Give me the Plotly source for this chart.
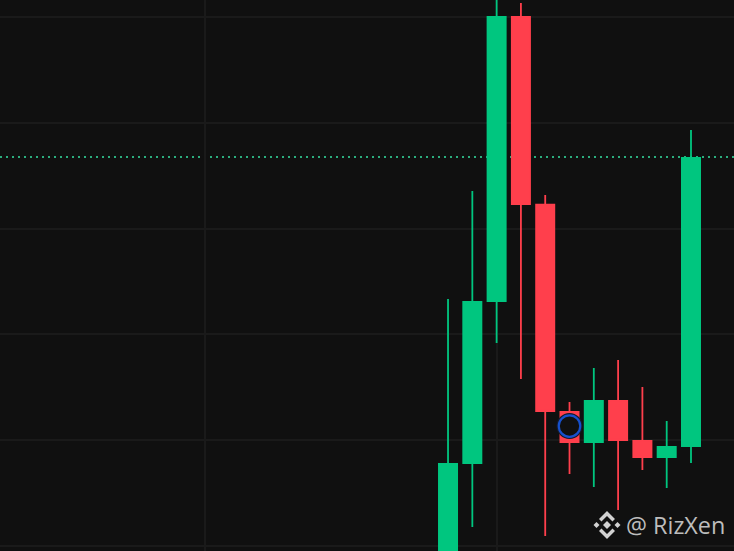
import plotly.graph_objects as go

BG = "#101010"
GRID = "#1a1a1a"
UP = "#00C67F"
DOWN = "#FF3F4C"

index = [0, 1, 2, 3, 4, 5, 6, 7, 8, 9, 10]
opens = [-4.0, 7.83, 23.14, 50.01, 32.25, 12.68, 9.82, 13.72, 9.94, 8.40, 9.44]
highs = [23.35, 33.55, 53.0, 51.32, 33.18, 13.61, 16.82, 17.58, 15.03, 11.81, 39.32]
lows = [-5.0, 1.80, 19.19, 15.78, 0.95, 6.81, 5.58, 3.40, 7.18, 5.48, 7.84]
closes = [7.76, 23.08, 50.01, 32.31, 12.75, 9.82, 13.72, 10.00, 8.40, 9.37, 36.69]
last_price = 36.77
marker_x = [5]
marker_y = [11.34]
watermark = "@ RizXen"

W, H = 734, 551

def px(x):
    return x / W

def py(y):
    return 1 - y / H

def poly(points, color="#d2d2d2"):
    d = "M" + " L".join(f"{px(a):.5f},{py(b):.5f}" for a, b in points) + " Z"
    return dict(type="path", xref="paper", yref="paper", path=d,
                fillcolor=color, line=dict(width=0), layer="above")

cx, cy = 607, 525
logo = [
    poly([(cx, cy - 4), (cx + 4, cy), (cx, cy + 4), (cx - 4, cy)]),
    poly([(cx - 13.5, cy), (cx - 10.5, cy - 3), (cx - 7.5, cy), (cx - 10.5, cy + 3)]),
    poly([(cx + 13.5, cy), (cx + 10.5, cy - 3), (cx + 7.5, cy), (cx + 10.5, cy + 3)]),
    poly([(cx, cy - 14), (cx + 8, cy - 6), (cx + 5.5, cy - 3.5), (cx, cy - 9), (cx - 5.5, cy - 3.5), (cx - 8, cy - 6)]),
    poly([(cx, cy + 14), (cx + 8, cy + 6), (cx + 5.5, cy + 3.5), (cx, cy + 9), (cx - 5.5, cy + 3.5), (cx - 8, cy + 6)]),
]

fig = go.Figure()
fig.add_trace(go.Candlestick(
    x=index, open=opens, high=highs, low=lows, close=closes,
    increasing=dict(line=dict(color=UP, width=1.8), fillcolor=UP),
    decreasing=dict(line=dict(color=DOWN, width=1.8), fillcolor=DOWN),
    whiskerwidth=0, showlegend=False, hoverinfo="skip",
))
fig.add_trace(go.Scatter(
    x=marker_x, y=marker_y, mode="markers", showlegend=False, hoverinfo="skip",
    marker=dict(size=22, color=BG, line=dict(color="#141a2c", width=4)),
))
fig.add_trace(go.Scatter(
    x=marker_x, y=marker_y, mode="markers", showlegend=False, hoverinfo="skip",
    marker=dict(size=21.5, color=BG, line=dict(color="#1650CC", width=2.2)),
))
fig.add_shape(type="line", xref="paper", x0=0, x1=1, yref="y", y0=last_price, y1=last_price,
              line=dict(color="#2BAE7E", width=2, dash="2px,4px"), layer="below")
for s in logo:
    fig.add_shape(**s)
fig.add_annotation(xref="paper", yref="paper", x=px(727), y=py(525), xanchor="right", yanchor="middle",
                   text=watermark, showarrow=False,
                   font=dict(family="Open Sans", size=23.4, color="#bdbdbd"))
fig.update_layout(
    width=W, height=H, autosize=False, margin=dict(l=0, r=0, t=0, b=0),
    paper_bgcolor=BG, plot_bgcolor=BG, boxmode="group", boxgap=0.251, boxgroupgap=0, showlegend=False,
    xaxis=dict(range=[-18.44, 11.77], tick0=2, dtick=12, tickmode="linear", showgrid=True,
               gridcolor=GRID, gridwidth=2, zeroline=False, showticklabels=False, ticks="",
               showline=False, rangeslider=dict(visible=False)),
    yaxis=dict(range=[-0.47, 51.6], tick0=0, dtick=10, tickmode="linear", showgrid=True,
               gridcolor=GRID, gridwidth=2, zeroline=False, showticklabels=False, ticks="",
               showline=False),
)
fig.write_html("out.html", config=dict(displayModeBar=False),
               post_script="document.documentElement.style.background='#101010';"
                           "document.body.style.margin='0';document.body.style.overflow='hidden';"
                           "document.body.style.background='#101010';")
